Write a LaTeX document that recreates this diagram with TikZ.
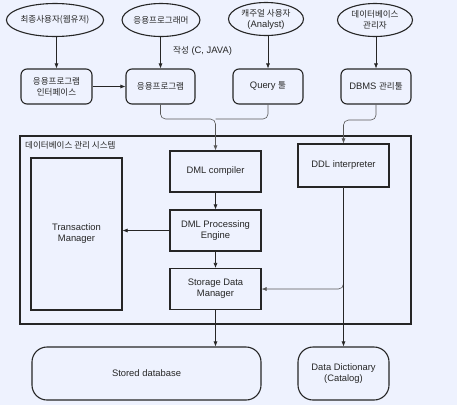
\documentclass[tikz,border=0pt]{standalone}
\usepackage{fontspec}
\setmainfont{Liberation Sans}
\newfontfamily\kr[Scale=0.91]{Noto Sans CJK KR}
\usepackage{xcolor}
\usetikzlibrary{shapes.geometric,arrows.meta,positioning,calc}
\definecolor{canvas}{HTML}{EEF2FE}
\definecolor{dark}{HTML}{262626}
\definecolor{wire}{HTML}{585858}

\begin{document}
\begin{tikzpicture}[x=1pt, y=-1pt, font=\fontsize{9.4}{11}\selectfont, text=dark,
    actor/.style={ellipse, draw=dark, line width=1.1pt, fill=canvas, minimum width=75pt, minimum height=33pt, inner sep=0pt, align=center},
    toolbox/.style={rectangle, draw=dark, line width=1.1pt, rounded corners=6pt, minimum width=70pt, minimum height=35pt, align=center},
    modbox/.style={rectangle, draw=dark, line width=1.1pt, minimum width=91pt, minimum height=41pt, align=center},
    storebox/.style={rectangle, draw=dark, line width=1.1pt, rounded corners=15pt, minimum height=53pt, align=center},
    flow/.style={draw=dark, line width=0.6pt, -{Latex[length=5pt,width=4pt]}},
    feed/.style={draw=wire, line width=0.6pt, rounded corners=5pt}
]
    \fill[canvas] (0,0) rectangle (457,405);
    \useasboundingbox (0,0) rectangle (457,405);

    % users
    \node[actor] (enduser) at (55,20) {\kr 최종사용자(웹유저)};
    \node[actor] (coder) at (161,20) {\kr 응용프로그래머};
    \node[actor] (analyst) at (266,19) {{\kr 캐주얼 사용자}\\(Analyst)};
    \node[actor] (dba) at (375,20) {\kr 데이터베이스\\\kr 관리자};

    % tools
    \node[toolbox, minimum width=71pt] (appif) at (56.5,86.5) {\kr 응용프로그램\\\kr 인터페이스};
    \node[toolbox, minimum width=69pt] (app) at (160.5,86.5) {\kr 응용프로그램};
    \node[toolbox] (query) at (268,86.5) {Query {\kr 툴}};
    \node[toolbox] (dbmstool) at (376,86.5) {DBMS {\kr 관리툴}};
    \node[anchor=west, inner sep=0pt] (writes) at (173,51) {{\kr 작성} (C, JAVA)};

    \draw[flow] (enduser.south -| appif.north) -- (appif.north);
    \draw[flow] (coder.south -| app.north) -- (app.north);
    \draw[flow] (analyst.south -| query.north) -- (query.north);
    \draw[flow] (dba.south -| dbmstool.north) -- (dbmstool.north);
    \draw[flow] (appif.east) -- (app.west);

    % DBMS
    \node[rectangle, draw=dark, line width=1.1pt, minimum width=391pt, minimum height=188pt] (dbms) at (215.5,230) {};
    \node[anchor=west, inner sep=0pt] (dbmslabel) at (25,145) {\kr 데이터베이스 관리 시스템};

    \node[modbox, minimum height=152pt] (txman) at (76.5,234) {Transaction\\Manager};
    \node[modbox] (dmlc) at (215.5,171.5) {DML compiler};
    \node[modbox] (dmlpe) at (215.5,230.5) {DML Processing\\Engine};
    \node[modbox] (sdm) at (215.5,289) {Storage Data\\Manager};
    \node[modbox, minimum height=43pt] (ddl) at (343.5,165.5) {DDL interpreter};

    \node[storebox, minimum width=229pt] (stored) at (146.5,373.5) {Stored database};
    \node[storebox, minimum width=91pt] (dict) at (343.5,373.5) {Data Dictionary\\(Catalog)};

    \coordinate (dmljoin) at (215.5,119);
    \coordinate (ddljoin) at (343.5,120);

    \draw[feed] (query.south) |- (dmljoin);
    \draw[flow, feed] (app.south) |- (dmljoin) -- (dmlc.north);
    \draw[flow, feed] (dbmstool.south) |- (ddljoin) -- (ddl.north);

    \draw[flow] (dmlc) -- (dmlpe);
    \draw[flow] (dmlpe) -- (sdm);
    \draw[flow] (dmlpe.west) -- (dmlpe.west -| txman.east);
    \draw[flow] (sdm.south) -- (sdm.south |- stored.north);
    \draw[flow, feed] (ddl.south) |- (sdm.east);
    \draw[flow] (ddl) -- (dict);
\end{tikzpicture}
\end{document}
